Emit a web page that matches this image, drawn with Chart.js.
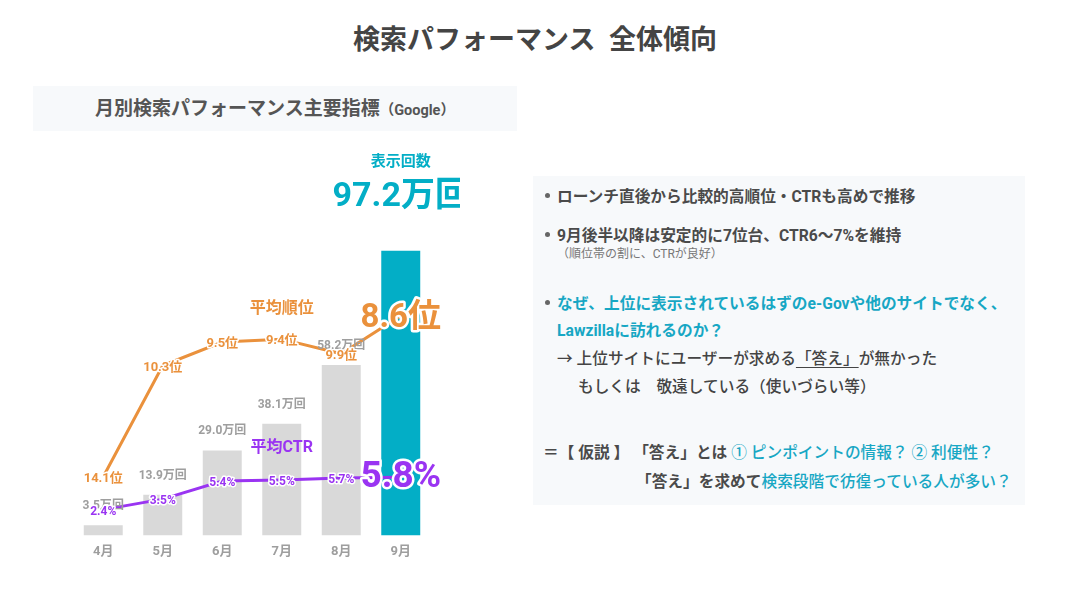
<!DOCTYPE html>
<html lang="ja">
<head>
<meta charset="utf-8">
<title>検索パフォーマンス 全体傾向</title>
<script src="https://cdn.jsdelivr.net/npm/chart.js@4.4.1/dist/chart.umd.min.js"></script>
<style>
  body { margin: 0; width: 1070px; height: 600px; background: #fff; position: relative; overflow: hidden;
         font-family: Roboto, "Noto Sans CJK JP", sans-serif; color: #4a4a4a; }
  h1 { position: absolute; left: 0; top: 21px; width: 1070px; margin: 0; text-align: center;
       font-size: 27px; line-height: 38px; font-weight: 700; color: #444; }
  .sub { position: absolute; left: 33px; top: 86px; width: 484px; height: 45px; background: #f7f9fb;
         text-align: center; line-height: 46px; font-size: 19px; font-weight: 700; color: #555; }
  .sub small { font-size: 14.5px; }
  #chartBox { position: absolute; left: 60px; top: 130px; width: 400px; height: 440px; }
  .panel { position: absolute; left: 533px; top: 176px; width: 492px; height: 329px; background: #f7f9fb; }
  .ln { position: absolute; white-space: nowrap; font-size: 15.7px; line-height: 20px; font-weight: 700; }
  .dot { display: inline-block; width: 5px; height: 5px; border-radius: 50%; background: #666;
         margin-right: 7px; vertical-align: middle; position: relative; top: -2px; }
  .teal { color: #17a7c4; }
  .mid { font-weight: 500; color: #444; }
  .note { font-size: 12px; line-height: 18px; font-weight: 400; color: #777; }
  .ul { text-decoration: underline; text-underline-offset: 3px; }
</style>
</head>
<body>
<h1>検索パフォーマンス&nbsp;&nbsp;全体傾向</h1>
<div class="sub">月別検索パフォーマンス主要指標<small>（Google）</small></div>
<div id="chartBox"><canvas id="perfChart"></canvas></div>

<div class="panel"></div>
<div class="ln" style="left:545px;top:187px"><span class="dot"></span>ローンチ直後から比較的高順位・CTRも高めで推移</div>
<div class="ln" style="left:545px;top:226px"><span class="dot"></span>9月後半以降は安定的に7位台、CTR6〜7%を維持</div>
<div class="ln note" style="left:557px;top:245px">（順位帯の割に、CTRが良好）</div>
<div class="ln teal" style="left:545px;top:294px"><span class="dot"></span>なぜ、上位に表示されているはずのe-Govや他のサイトでなく、</div>
<div class="ln teal" style="left:557px;top:321px">Lawzillaに訪れるのか？</div>
<div class="ln mid" style="left:557px;top:349px">→ 上位サイトにユーザーが求める<span class="ul">「答え」</span>が無かった</div>
<div class="ln mid" style="left:578px;top:377px">もしくは　敬遠している（使いづらい等）</div>
<div class="ln" style="left:543px;top:443px">＝【 仮説 】 「答え」とは <span class="teal mid" style="color:#17a7c4">① ピンポイントの情報？ ② 利便性？</span></div>
<div class="ln" style="left:636px;top:472px">「答え」を求めて<span class="teal mid" style="color:#17a7c4">検索段階で彷徨っている人が多い？</span></div>

<script>
// 月別データ（Google）
const months = ['4月', '5月', '6月', '7月', '8月', '9月'];
const impressions = [3.5, 13.9, 29.0, 38.1, 58.2, 97.2];   // 表示回数（万回）
const avgRank = [14.1, 10.3, 9.5, 9.4, 9.9, 8.6];           // 平均順位
const avgCtr = [2.4, 3.5, 5.4, 5.5, 5.7, 5.8];              // 平均CTR（%）

const ORANGE = '#ea913c';
const PURPLE = '#9a34f2';
const TEAL = '#03aec6';
const GRAY_BAR = '#d9d9d9';
const GRAY_TXT = '#9e9e9e';
const FONT = 'Roboto, "Noto Sans CJK JP", sans-serif';

function outlined(ctx, text, x, y, size, color, stroke) {
    ctx.font = `bold ${size}px ${FONT}`;
    ctx.textAlign = 'center';
    ctx.textBaseline = 'middle';
    ctx.lineJoin = 'round';
    if (stroke > 0) {
        ctx.lineWidth = stroke;
        ctx.strokeStyle = '#fff';
        ctx.strokeText(text, x, y);
    }
    ctx.fillStyle = color;
    ctx.fillText(text, x, y);
}

const labelPlugin = {
    id: 'labelPlugin',
    afterDatasetsDraw(chart) {
        const ctx = chart.ctx;
        const rankPts = chart.getDatasetMeta(0).data;
        const ctrPts = chart.getDatasetMeta(1).data;
        const bars = chart.getDatasetMeta(2).data;
        const last = months.length - 1;
        ctx.save();

        // 表示回数
        bars.forEach((bar, i) => {
            if (i < last) {
                outlined(ctx, impressions[i].toFixed(1) + '万回', bar.x, bar.y - 19, 12, GRAY_TXT, 0);
            } else {
                outlined(ctx, '表示回数', bar.x, bar.y - 88, 15, TEAL, 0);
                outlined(ctx, impressions[i].toFixed(1) + '万回', bar.x, bar.y - 53, 34, TEAL, 0);
            }
        });

        // 系列名
        outlined(ctx, '平均順位', rankPts[3].x, rankPts[3].y - 30, 16, ORANGE, 0);
        outlined(ctx, '平均CTR', ctrPts[3].x, ctrPts[3].y - 32, 16, PURPLE, 0);

        // 平均順位
        rankPts.forEach((pt, i) => {
            const big = i === last;
            outlined(ctx, avgRank[i].toFixed(1) + '位', pt.x, pt.y + (big ? 3 : 2), big ? 33 : 13, ORANGE, big ? 5 : 3);
        });

        // 平均CTR
        ctrPts.forEach((pt, i) => {
            const big = i === last;
            outlined(ctx, avgCtr[i].toFixed(1) + '%', pt.x, pt.y + (big ? 1 : 2), big ? 37 : 12, PURPLE, big ? 5 : 3);
        });

        ctx.restore();
    }
};

document.addEventListener('DOMContentLoaded', function() {
    const ctx = document.getElementById('perfChart').getContext('2d');

    new Chart(ctx, {
        type: 'bar',
        data: {
            labels: months,
            datasets: [{
                type: 'line',
                label: '平均順位',
                data: avgRank,
                yAxisID: 'yRank',
                borderColor: ORANGE,
                borderWidth: 3,
                pointRadius: 0,
                order: 1
            }, {
                type: 'line',
                label: '平均CTR',
                data: avgCtr,
                yAxisID: 'yCtr',
                borderColor: PURPLE,
                borderWidth: 3,
                pointRadius: 0,
                order: 2
            }, {
                label: '表示回数',
                data: impressions,
                yAxisID: 'yBar',
                backgroundColor: months.map((m, i) => i === months.length - 1 ? TEAL : GRAY_BAR),
                barPercentage: 0.655,
                categoryPercentage: 1,
                order: 3
            }]
        },
        options: {
            responsive: true,
            maintainAspectRatio: false,
            animation: false,
            layout: { padding: { left: 13.5, right: 29.5, top: 10, bottom: 1 } },
            plugins: {
                legend: { display: false },
                tooltip: { enabled: false }
            },
            scales: {
                x: {
                    grid: { display: false, drawTicks: false },
                    border: { display: false },
                    ticks: { color: GRAY_TXT, padding: 9, font: { family: FONT, size: 13, weight: 'bold' } }
                },
                yBar: { display: false, min: 0, max: 135 },
                yRank: { display: false, reverse: true, min: 2.6, max: 16.1 },
                yCtr: { display: false, min: -0.3, max: 41.1 }
            }
        },
        plugins: [labelPlugin]
    });
});
</script>
</body>
</html>
